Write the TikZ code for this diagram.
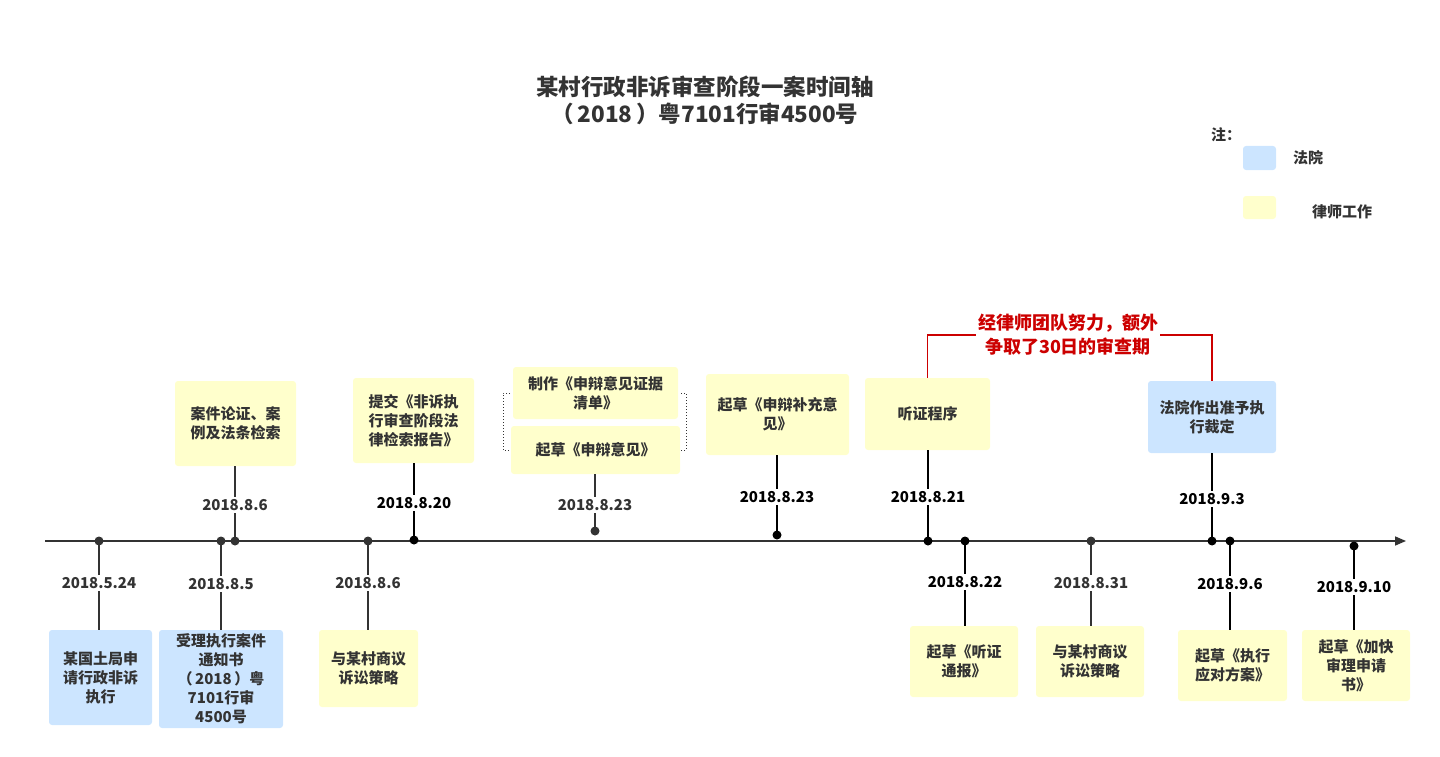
\documentclass[tikz,border=0pt]{standalone}
\usepackage{fontspec}
\setmainfont{Noto Sans CJK SC}
\usetikzlibrary{arrows.meta,positioning}
\definecolor{courtblue}{HTML}{CCE5FF}
\definecolor{lawyellow}{HTML}{FFFFCC}
\definecolor{inkgray}{HTML}{333333}
\definecolor{notered}{HTML}{CC0000}

\begin{document}
\begin{tikzpicture}[x=1pt,y=-1pt,
    box/.style={rounded corners=3pt,align=center,text=inkgray,inner sep=2pt,
      font=\fontsize{15}{19}\selectfont\bfseries},
    court/.style={box,fill=courtblue},
    lawyer/.style={box,fill=lawyellow},
    date/.style={fill=white,inner sep=2pt,text=inkgray,
      font=\fontsize{15}{17}\selectfont\bfseries},
    datek/.style={date,text=black},
    legendtext/.style={text=inkgray,font=\fontsize{15}{17}\selectfont\bfseries},
    stem/.style={line width=1.5pt,inkgray},
    stemk/.style={line width=1.5pt,black}]
    \useasboundingbox (0,0) rectangle (1440,757);

    % title
    \node[align=center,text=inkgray,font=\fontsize{22.5}{27}\selectfont\bfseries] (title) at (705,100)
      {某村行政非诉审查阶段一案时间轴\\（\,2018\,）粤7101行审4500号};

    % legend
    \node[legendtext] (note) at (1226,135) {注：};
    \node[court,minimum width=33,minimum height=24] (lgcourt) at (1259.5,158) {};
    \node[legendtext] (lgcourtt) at (1308,158) {法院};
    \node[lawyer,minimum width=33,minimum height=23] (lglaw) at (1259.5,207.5) {};
    \node[legendtext] (lglawt) at (1342,212) {律师工作};

    % time axis
    \coordinate (start) at (45,541);
    \coordinate (end) at (1406,541);
    \draw[line width=1.6pt,inkgray,-{Triangle[length=11pt,width=9pt]}] (start) -- (end);

    % boxes
    \node[court,minimum width=103,minimum height=95] (b1) at (100.5,677.5) {某国土局申\\请行政非诉\\执行};
    \node[court,minimum width=124,minimum height=98] (b2) at (221,679) {受理执行案件\\通知书\\（\,2018\,）粤\\7101行审\\4500号};
    \node[lawyer,minimum width=121,minimum height=85] (b3) at (235.5,423.5) {案件论证、案\\例及法条检索};
    \node[lawyer,minimum width=99,minimum height=77] (b4) at (368.5,668.5) {与某村商议\\诉讼策略};
    \node[lawyer,minimum width=121,minimum height=85] (b5) at (413.5,420.5) {提交《非诉执\\行审查阶段法\\律检索报告》};
    \node[lawyer,minimum width=165,minimum height=52] (b6a) at (595.5,393) {制作《申辩意见证据\\清单》};
    \node[lawyer,minimum width=169,minimum height=48] (b6b) at (595.5,450) {起草《申辩意见》};
    \node[lawyer,minimum width=143,minimum height=81] (b7) at (777.5,414.5) {起草《申辩补充意\\见》};
    \node[lawyer,minimum width=125,minimum height=72] (b8) at (927.5,414) {听证程序};
    \node[lawyer,minimum width=108,minimum height=71] (b9) at (964,661.5) {起草《听证\\通报》};
    \node[lawyer,minimum width=108,minimum height=71] (b10) at (1090,661.5) {与某村商议\\诉讼策略};
    \node[court,minimum width=128,minimum height=72] (b11) at (1212,417) {法院作出准予执\\行裁定};
    \node[lawyer,minimum width=109,minimum height=71] (b12) at (1232.5,665.5) {起草《执行\\应对方案》};
    \node[lawyer,minimum width=108,minimum height=71] (b13) at (1356,665.5) {起草《加快\\审理申请\\书》};

    % bracket around the two reply items
    \draw[dotted,line width=1pt,inkgray] (510,393) -- (503,393) -- (503,450) -- (510,450);
    \draw[dotted,line width=1pt,inkgray] (681,393) -- (686,393) -- (686,450) -- (681,450);

    % points on the axis
    \coordinate (d1) at (99,541);
    \coordinate (d2) at (221,541);
    \coordinate (d3) at (235,541);
    \coordinate (d4) at (368,541);
    \coordinate (d5) at (414,540);
    \coordinate (d6) at (595,531);
    \coordinate (d7) at (777,535);
    \coordinate (d8) at (928,541);
    \coordinate (d9) at (965,541);
    \coordinate (d10) at (1091,541);
    \coordinate (d11) at (1212,541);
    \coordinate (d12) at (1230,541);
    \coordinate (d13) at (1354,546);

    % stems
    \foreach \d/\b in {1/b1,2/b2,4/b4,10/b10}{
        \draw[stem] (d\d) -- (d\d |- \b.north);
        \fill[inkgray] (d\d) circle (4.5);
    }
    \foreach \d/\b in {9/b9,12/b12,13/b13}{
        \draw[stemk] (d\d) -- (d\d |- \b.north);
        \fill (d\d) circle (4.5);
    }
    \draw[stem] (d3) -- (d3 |- b3.south);
    \fill[inkgray] (d3) circle (4.5);
    \draw[stem] (d6) -- (d6 |- b6b.south);
    \fill[inkgray] (d6) circle (4.5);
    \foreach \d/\b in {5/b5,7/b7,8/b8,11/b11}{
        \draw[stemk] (d\d) -- (d\d |- \b.south);
        \fill (d\d) circle (4.5);
    }

    % dates
    \node[date] (t1) at (99,583) {2018.5.24};
    \node[date] (t2) at (221,584) {2018.8.5};
    \node[date] (t3) at (235,505) {2018.8.6};
    \node[date] (t4) at (368,583) {2018.8.6};
    \node[datek] (t5) at (414,503) {2018.8.20};
    \node[date] (t6) at (595,505) {2018.8.23};
    \node[datek] (t7) at (777,497) {2018.8.23};
    \node[datek] (t8) at (928,497) {2018.8.21};
    \node[datek] (t9) at (965,582) {2018.8.22};
    \node[date] (t10) at (1091,583) {2018.8.31};
    \node[datek] (t11) at (1212,499) {2018.9.3};
    \node[datek] (t12) at (1230,584) {2018.9.6};
    \node[datek] (t13) at (1354,587) {2018.9.10};

    % extra review period
    \node[align=center,text=notered,inner sep=2pt,font=\fontsize{18}{24}\selectfont\bfseries] (gain) at (1068,335)
      {经律师团队努力，额外\\争取了30日的审查期};
    \draw[notered,line width=1.3pt] (b8.north) |- (gain.west);
    \draw[notered,line width=1.3pt] (gain.east) -| (b11.north);
\end{tikzpicture}
\end{document}
